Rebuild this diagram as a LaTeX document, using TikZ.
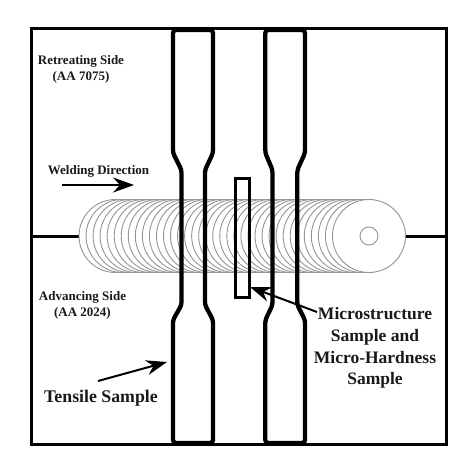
\documentclass[tikz,border=0pt]{standalone}
\usepackage{fontspec}
\setmainfont{Liberation Serif}
\usetikzlibrary{arrows.meta}
\tikzset{
  x=1pt,y=-1pt,
  frameline/.style={line width=3pt,black},
  sample/.style={line width=4.3pt,black,line join=round,rounded corners=3pt},
  weld/.style={line width=0.9pt,draw=black!42,fill=white},
  label/.style={align=center,inner sep=0pt,text=black!90},
  pointer/.style={line width=2pt,black,-{Stealth[length=21pt,width=15pt,inset=7pt]}}
}
\newcommand{\dogbone}[4]{%
  \draw[sample] (#1,30) -- (#1,153) -- (#3,170) -- (#3,305) -- (#1,320) -- (#1,443)
    -- (#2,443) -- (#2,320) -- (#4,305) -- (#4,170) -- (#2,153) -- (#2,30) -- cycle;
}
\begin{document}
\begin{tikzpicture}
\useasboundingbox (0,0) rectangle (474,450);
\coordinate (wl) at (79,236);
\coordinate (wr) at (406,236);
\coordinate (fl) at (31,236);
\coordinate (fr) at (446,236);
\draw[frameline] (31,28) rectangle (446,444);
\draw[frameline] (fl) -- (wl);
\draw[frameline] (wr) -- (fr);
\foreach \i in {0,...,36}{
  \draw[weld] ({115.5+\i*7.04},236) circle[radius=36.5];
}
\draw[weld] (369,236) circle[radius=9];
\dogbone{173}{213}{181.5}{205}
\dogbone{265.3}{305}{272.5}{297.3}
\node[draw,line width=2.8pt,minimum width=14pt,minimum height=119.5pt,inner sep=0pt] (ms) at (242.3,238) {};
\node[label,font=\bfseries\fontsize{13}{15.6}\selectfont] (rs) at (81,69.5) {Retreating Side\\(AA 7075)};
\node[label,font=\bfseries\fontsize{13}{15.6}\selectfont] (as) at (82.5,305.5) {Advancing Side\\(AA 2024)};
\node[label,font=\bfseries\fontsize{13}{15}\selectfont] (wd) at (98.5,171) {Welding Direction};
\node[label,font=\bfseries\fontsize{17.8}{20}\selectfont] (ts) at (101,398.5) {Tensile Sample};
\node[label,font=\bfseries\fontsize{17.5}{21.6}\selectfont] (mh) at (375,348) {Microstructure\\Sample and\\Micro-Hardness\\Sample};
\coordinate (wa) at (62,185);
\coordinate (wb) at (134,185);
\coordinate (ta) at (98,381);
\coordinate (tb) at (167,362);
\coordinate (ma) at (317,312);
\coordinate (mb) at (250,287);
\draw[pointer] (wa) -- (wb);
\draw[pointer] (ta) -- (tb);
\draw[pointer] (ma) -- (mb);
\end{tikzpicture}
\end{document}
